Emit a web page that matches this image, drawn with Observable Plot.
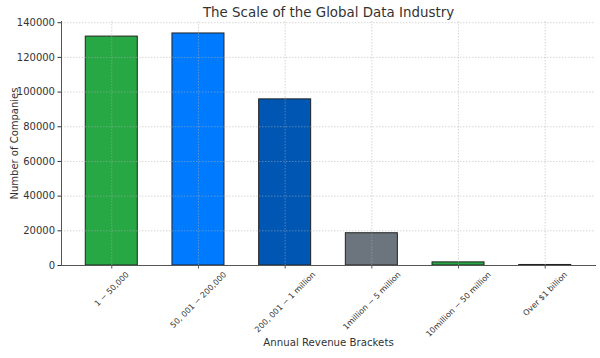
<!DOCTYPE html>
<html>
<head>
<meta charset="utf-8">
<script src="https://cdn.jsdelivr.net/npm/d3@7"></script>
<script src="https://cdn.jsdelivr.net/npm/@observablehq/plot@0.6"></script>
<style>
  html, body { margin: 0; padding: 0; background: #fff; }
  #chart svg { display: block; }
</style>
</head>
<body>
<div id="chart"></div>
<script>
const title = "The Scale of the Global Data Industry";
const xLabel = "Annual Revenue Brackets";
const yLabel = "Number of Companies";
const categories = [
  "1 − 50,000",
  "50, 001 − 200,000",
  "200, 001 − 1 million",
  "1million − 5 million",
  "10million − 50 million",
  "Over $1 billion"
];
const companies = [132000, 133800, 95800, 18600, 1800, 300];
const barColors = ["#28a745", "#007bff", "#0056b3", "#6c757d", "#28a745", "#343a40"];
const yTicks = [0, 20000, 40000, 60000, 80000, 100000, 120000, 140000];

const font = "DejaVu Sans, sans-serif";
const labelSize = 8;
const ctx = document.createElement("canvas").getContext("2d");
ctx.font = `${labelSize}px "DejaVu Sans"`;

const data = categories.map((c, i) => ({c, v: companies[i], color: barColors[i], w: ctx.measureText(c).width}));

const labelMarks = data.map(d => Plot.text([d], {
  x: "c", text: "c", frameAnchor: "bottom",
  rotate: -45, textAnchor: "middle", lineAnchor: "middle",
  dy: 5 + (d.w + labelSize) * 0.3536,
  fontSize: labelSize, fill: "#333"
}));

const chart = Plot.plot({
  width: 600,
  height: 358,
  marginLeft: 61,
  marginRight: 5,
  marginTop: 21,
  marginBottom: 93,
  style: {fontFamily: font, fontSize: "10px", color: "#333", background: "#fff"},
  x: {type: "band", domain: categories, paddingInner: 0.4, paddingOuter: 0.28, round: false},
  y: {domain: [0, 140700]},
  color: {type: "identity"},
  marks: [
    Plot.barY(data, {x: "c", y: "v", fill: "color", stroke: "#222", strokeWidth: 1}),
    Plot.gridY(yTicks, {stroke: "#b0b0b0", strokeOpacity: 0.5, strokeDasharray: "1.5,1.5"}),
    Plot.gridX(categories, {stroke: "#b0b0b0", strokeOpacity: 0.5, strokeDasharray: "1.5,1.5"}),
    Plot.axisY({ticks: yTicks, tickFormat: d => String(d), tickSize: 3.5, tickPadding: 3,
      label: yLabel, labelAnchor: "center", labelArrow: "none", labelOffset: 51, fontSize: 10, color: "#333"}),
    Plot.axisX({tickSize: 3.5, tickFormat: () => "", label: null, color: "#555"}),
    Plot.frame({anchor: "left", stroke: "#555"}),
    Plot.frame({anchor: "bottom", stroke: "#555"}),
    ...labelMarks,
    Plot.text([xLabel], {frameAnchor: "bottom", dy: 80, fontSize: 10.2, fill: "#333"}),
    Plot.text([title], {frameAnchor: "top", lineAnchor: "middle", dy: -9, fontSize: 13.4, fill: "#333"})
  ]
});
document.getElementById("chart").appendChild(chart);
</script>
</body>
</html>
